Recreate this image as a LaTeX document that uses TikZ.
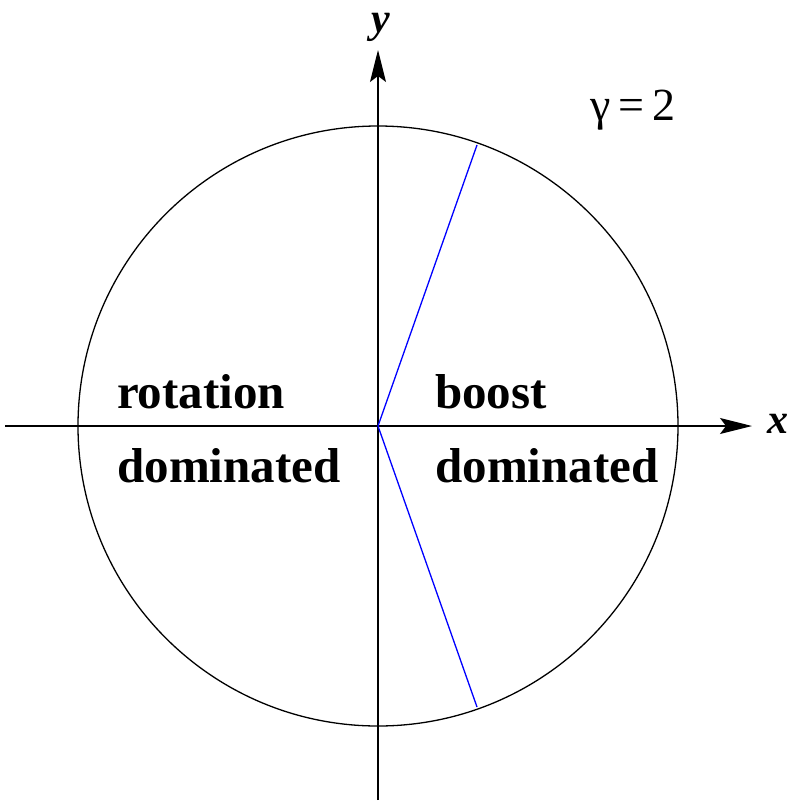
\documentclass[tikz,border=0pt]{standalone}
\usepackage{fontspec}
\setmainfont{Liberation Serif}
\usetikzlibrary{arrows.meta}
\begin{document}
\begin{tikzpicture}[x=1pt,y=-1pt,
  axis/.style={line width=1.3pt,-{Stealth[length=32pt,width=16pt,inset=6pt]}},
  lbl/.style={font=\fontsize{49}{53}\selectfont\bfseries},
  blue line/.style={blue,line width=1.3pt}]
\useasboundingbox (0,0) rectangle (800,804);
\coordinate (o) at (378,426);
\coordinate (xs) at (5,426);
\coordinate (xe) at (752,426);
\coordinate (ys) at (378,800);
\coordinate (ye) at (378,50);
\coordinate (b1) at (477,145);
\coordinate (b2) at (477,707);
\draw[line width=1.3pt] (o) circle[radius=300];
\draw[axis] (xs) -- (xe);
\draw[axis] (ys) -- (ye);
\draw[blue line] (b1) -- (o) -- (b2);
\node[font=\fontsize{42}{46}\selectfont\bfseries\itshape] (ylab) at (381,27) {y};
\node[font=\fontsize{42}{46}\selectfont\bfseries\itshape] (xlab) at (778,424) {x};
\node[font=\fontsize{46}{50}\selectfont] (g) at (633,110) {γ\,=\,2};
\node[lbl] (r) at (201,392) {rotation};
\node[lbl] (d1) at (229,466) {dominated};
\node[lbl] (b) at (491,392) {boost};
\node[lbl] (d2) at (547,466) {dominated};
\end{tikzpicture}
\end{document}
